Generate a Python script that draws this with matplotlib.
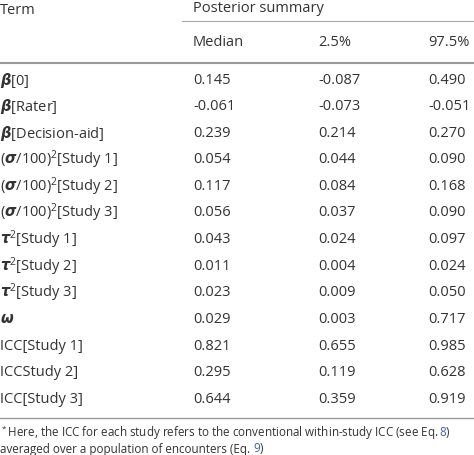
import matplotlib
matplotlib.use('Agg')
import matplotlib.pyplot as plt

plt.rcParams['font.family'] = ['Open Sans', 'DejaVu Sans']
plt.rcParams['mathtext.fontset'] = 'custom'
plt.rcParams['mathtext.rm'] = 'Open Sans'
plt.rcParams['mathtext.it'] = 'Open Sans:italic'
plt.rcParams['mathtext.bfit'] = 'DejaVu Sans:italic:bold'

terms = [r'$\mathbfit{\beta}$[0]', r'$\mathbfit{\beta}$[Rater]', r'$\mathbfit{\beta}$[Decision-aid]',
         r'$(\mathbfit{\sigma}/100)^2$[Study 1]', r'$(\mathbfit{\sigma}/100)^2$[Study 2]',
         r'$(\mathbfit{\sigma}/100)^2$[Study 3]',
         r'$\mathbfit{\tau}^2$[Study 1]', r'$\mathbfit{\tau}^2$[Study 2]', r'$\mathbfit{\tau}^2$[Study 3]',
         r'$\mathbfit{\omega}$', 'ICC[Study 1]', 'ICCStudy 2]', 'ICC[Study 3]']
median = ['0.145', '-0.061', '0.239', '0.054', '0.117', '0.056', '0.043', '0.011', '0.023',
          '0.029', '0.821', '0.295', '0.644']
low = ['-0.087', '-0.073', '0.214', '0.044', '0.084', '0.037', '0.024', '0.004', '0.009',
       '0.003', '0.655', '0.119', '0.359']
high = ['0.490', '-0.051', '0.270', '0.090', '0.168', '0.090', '0.097', '0.024', '0.050',
        '0.717', '0.985', '0.628', '0.919']

fig = plt.figure(figsize=(4.74, 4.55), dpi=100)
ax = fig.add_axes([0, 0, 1, 1])
ax.set_xlim(0, 474)
ax.set_ylim(455, 0)
ax.axis('off')

fs = 10.5
col = '#333333'
xs = [0, 193, 318, 428]
ax.text(xs[0], 10, 'Term', fontsize=fs, color=col, va='center')
ax.text(xs[1], 9, 'Posterior summary', fontsize=fs, color=col, va='center')
ax.plot([182, 474], [21, 21], color='#aaaaaa', lw=0.8)
for x, h in zip(xs[1:], ['Median', '2.5%', '97.5%']):
    ax.text(x, 42, h, fontsize=fs, color=col, va='center')
ax.plot([0, 474], [63, 63], color='#999999', lw=1.5)

for i, row in enumerate(zip(terms, median, low, high)):
    y = 80 + i * 26.6
    for x, s in zip(xs, row):
        ax.text(x, y, s, fontsize=fs, color=col, va='center')
ax.plot([0, 474], [418, 418], color='#999999', lw=1.0)

fig.canvas.draw()
r = fig.canvas.get_renderer()
inv = ax.transData.inverted()


def put(x, y, s, **kw):
    t = ax.text(x, y, s, fontsize=8.4, va='center', **kw)
    bb = t.get_window_extent(r)
    return inv.transform((bb.x1, bb.y0))[0]


x = put(0, 433, r'$^*$Here, the ICC for each study refers to the conventional within-study ICC (see Eq. ', color=col)
x = put(x, 433, '8', color='#3a5fb0')
put(x, 433, ')', color=col)
x = put(0, 449, 'averaged over a population of encounters (Eq. ', color=col)
x = put(x, 449, '9', color='#3a5fb0')
put(x, 449, ')', color=col)

fig.savefig('out.png', dpi=100)
